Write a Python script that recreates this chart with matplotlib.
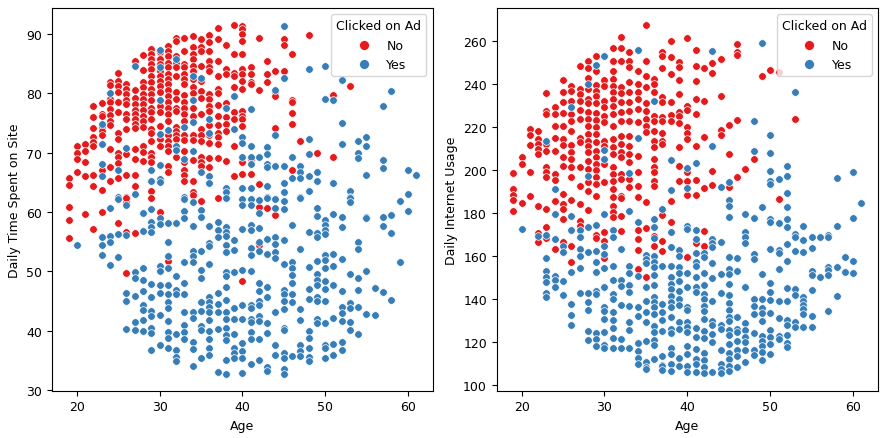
from matplotlib import pyplot as plt

plt.rcParams['font.size'] = 9

# Values: (age, [values at that age])
SITE_NO = [
    (19, [65.7, 64.5, 60.85, 58.65, 55.6]),
    (20, [71.2, 70.0, 69.0, 66.7]),
    (21, [71.5, 70.2, 68.4, 66.0, 59.7]),
    (22, [77.8, 76.0, 74.2, 72.7, 71.8, 71.2, 66.2, 64.3, 57.1]),
    (23, [78.3, 76.6, 76.1, 74.3, 73.7, 73.0, 67.1, 63.75, 60.06]),
    (24, [82, 81.4, 79, 78.5, 77.4, 76.4, 75.3, 74.7, 70.6, 67.6, 65.3]),
    (25, [83.5, 82.1, 81.3, 80.3, 78.6, 76.8, 73.4, 72.3, 70, 69.3, 68.2, 65.7, 58.2]),
    (26, [81.6, 80.7, 79.9, 78.8, 78.2, 76.5, 75.7, 74, 69.8, 66.3, 62.5, 56.6, 61.7, 62.4, 49.7]),
    (27, [85.5, 80.6, 79.3, 78.2, 77.2, 76.5, 75.7, 74.8, 74.1, 70.6, 68.9, 66.3, 64.3, 56.4]),
    (28, [86.5, 84, 81.9, 81, 79.9, 79.1, 78.2, 77.2, 76.2, 75.4, 74.3, 71.2, 70.1, 68.6]),
    (29, [87.5, 86.6, 85.8, 85, 84.1, 83, 81.9, 80.7, 79.9, 78.8, 77.6, 76.8, 75.7, 74, 73.4, 72, 70, 69.2, 68.4, 63.6, 62.4]),
    (30, [86.9, 85.8, 85, 83.8, 83, 82.1, 81.3, 80.2, 77.9, 76.8, 74.5, 72.3, 71.2, 60]),
    (31, [88, 87.2, 86.3, 85.2, 84.4, 83.3, 82.4, 81.6, 80.6, 79.6, 78.5, 77.5, 76.5, 75.4, 72.9, 72, 71.2, 70.3, 67.8, 66.7, 51.7]),
    (32, [89.4, 88.8, 86.3, 85.2, 84.4, 83, 80.2, 79.1, 77.5, 77, 74.3, 73.7, 72.9, 72.3, 69.2]),
    (33, [89.3, 87.2, 85, 84.4, 83.3, 82.4, 81.6, 79.7, 78.5, 77.6, 76.5, 75.4, 72.9, 72.1, 70.2, 68.4, 67, 66.3, 65.3]),
    (34, [89.7, 87.9, 86.6, 85.8, 84.7, 83.8, 82.4, 81, 80, 77.5, 76.2, 72.9, 72.1, 68.8, 65.3, 63.3, 62.9]),
    (35, [89.2, 87.8, 87.2, 84.7, 82.1, 80.4, 79.3, 76.5, 74, 72.9, 71.9, 69.2, 68.5, 67.7, 61.9]),
    (36, [89.9, 88.6, 87.2, 85.4, 84.4, 83.8, 79.9, 79.1, 77.9, 77.1, 74.7, 72.9, 71.6, 69.1, 67.5]),
    (37, [91, 89.2, 85.4, 83, 80.7, 80, 78, 76.2, 74.7, 73.4, 72.6, 71.5, 69.1, 62.3]),
    (38, [88.2, 84.1, 83.3, 78.4, 76, 74.8, 73.6, 68.6]),
    (39, [91.5, 86.7, 83.5, 83, 81, 76.8, 75.7, 71.1, 66]),
    (40, [91.4, 90.8, 90, 88.9, 86.6, 84.1, 83.2, 82.1, 80.7, 77.1, 76.2, 75.7, 74.5, 68.4, 66.4, 48.3]),
    (41, [84.4, 83.3, 82, 81.6, 68.9, 66.4]),
    (42, [89.3, 80.6, 64.7, 60.8, 54.4]),
    (43, [85.5, 83.3, 81.9, 60.7]),
    (44, [83.8, 80.2, 79.6, 74.1, 59.5]),
    (45, [89.2, 88.1, 83.8]),
    (46, [86.6, 78.8, 78.5, 76.7, 74.8, 67]),
    (47, [72]),
    (48, [89.8]),
    (49, [69.9]),
    (51, [79.8, 69.2]),
    (53, [81.3]),
]

SITE_YES = [
    (20, [54.4]),
    (23, [74.8, 71.5, 68.1, 66.1, 55.7, 54.5, 52.8]),
    (24, [80, 60.6, 56, 54.9, 51]),
    (25, [67, 62.5, 62.2, 56.2, 52.4]),
    (26, [70.8, 61.2, 56.1, 46.3, 45, 40.3]),
    (27, [84.6, 63.1, 49.8, 48.8, 45.9, 41.5, 40.1]),
    (28, [59.8, 56.8, 50.6, 48.6, 46.6, 44.3, 43.5, 41.8, 40]),
    (29, [67, 65.3, 60.5, 58.3, 57.5, 56.7, 47.8, 45.6, 43.3, 42.4, 40.4, 39.5, 36.7]),
    (30, [87.4, 84.4, 78.9, 73.1, 68, 65.5, 65, 59, 57.9, 50.8, 50, 47.7, 46.3, 42.6, 37.6]),
    (31, [73.8, 58.1, 55, 52.6, 50.6, 47.6, 46.2, 44.8, 43.8, 41.6, 39.7, 38.8, 37.1]),
    (32, [85.8, 71.2, 70.5, 58.1, 49.2, 46.9, 46.2, 39.4, 36.7, 35.5, 34.8]),
    (33, [74.4, 68.9, 62.6, 62.2, 60.1, 59, 51.6, 48.1, 46.2, 43.1, 41, 39.7, 38.6]),
    (34, [83, 78.8, 75.2, 70.3, 61.7, 57.7, 53.4, 52.6, 51.5, 43.1, 42.1, 38.1, 36.8, 34.1]),
    (35, [82.6, 66.8, 60.3, 59.2, 53.4, 50.2, 48.9, 44.8, 43.3, 40.8, 40.1, 35.3]),
    (36, [75.7, 73.4, 66, 64.9, 57.7, 54.7, 54.2, 51.3, 45.7, 44.8, 44, 43.2, 41.8, 40, 38.6, 37, 35.8]),
    (37, [58.3, 57, 55.7, 46.3, 44.4, 43.1, 40.3, 33]),
    (38, [77.6, 64.1, 63.3, 62.4, 57.5, 56.6, 56, 54.4, 53.2, 49.9, 49.2, 47.3, 45.1, 43.2, 42, 40.5, 39.3, 38.4, 35, 32.7]),
    (39, [79.6, 74, 55.3, 53.6, 49.9, 43.8, 42, 39.4, 37.1, 36.2, 35.3]),
    (40, [72.6, 71.7, 69.3, 64.1, 62.2, 61.1, 57.1, 50.2, 44.3, 42, 37.9, 36.5, 35.3, 32.9]),
    (41, [77.4, 71.2, 69.2, 68.1, 64.1, 62.2, 61.1, 57.8, 57, 54, 52.8, 50, 44.3, 43.8, 42, 41.4, 39.8, 38.6, 34.4]),
    (42, [69.3, 62, 59.8, 57.3, 55, 53.4, 48, 46.7, 44.9, 44.3, 42.5, 41.6, 38.6, 35]),
    (43, [70.9, 69.8, 68.1, 67.5, 64.3, 62.6, 62.4, 55.4, 52.9, 47.3, 45.7, 41.2, 39.5, 33.8, 33.2]),
    (44, [80.6, 73, 67.7, 62.1, 60.7, 55.7, 54.6, 53.2, 52.2, 43.1, 37.6, 35.9]),
    (45, [91.4, 82.6, 67.7, 64.8, 63.3, 61.9, 60.5, 55.2, 51.3, 46.9, 46.1, 44.9, 43.6, 40.5, 40.1, 36.2, 35.3, 33.5, 32.7]),
    (46, [69.2, 65.7, 57.8, 51.6, 50.5, 49.4, 48.1, 46.2, 44.8, 35.7]),
    (47, [67.7, 66.7, 65.8, 62.6, 62.3, 53.8, 43.6, 41.8, 37.6, 36.5, 35.7]),
    (48, [84.1, 72.3, 69.8, 66.1, 63.6, 56.7, 50.7, 47, 45.3, 39.9, 38.7, 37, 35.6, 34.9]),
    (49, [66.7, 65.3, 60.7, 59.4, 56.4, 55.7, 51.7, 49.5, 48.5, 47.7, 45.6, 44.9, 42, 41.2]),
    (50, [84.6, 79.1, 58.7, 57.8, 57, 56.2, 52.8, 51.9, 50.6, 48.4, 47, 45, 41.3, 37.6, 37, 35.3]),
    (51, [78.9, 64.8, 59.7, 52.9, 50.9, 47.6, 42.1, 37.7, 35.9]),
    (52, [82.2, 75, 71.5, 59.1, 57.4, 52, 46.6, 43.9, 42.9, 41.6, 38, 36.7]),
    (53, [63.5, 62.6, 62.3, 61.6, 49.5, 44.6, 43.8, 41.5, 40.1]),
    (54, [72, 70, 69.1, 55, 53.7, 48.9, 46.9, 44, 39.4]),
    (55, [72.7, 71.2, 66.3, 59.2, 58.9, 50.1, 42.8]),
    (56, [47.1, 42.6]),
    (57, [77.9, 68.7, 67.4, 59.1, 57.7, 46.5]),
    (58, [80.4, 59.5, 56.5, 45.2]),
    (59, [61.9, 51.5]),
    (60, [67, 63.1, 60.2]),
    (61, [66.3]),
]

USAGE_NO = [
    (19, [198.4, 191.1, 188.4, 186, 181]),
    (20, [206, 202.7, 184.5]),
    (21, [219, 216.3, 211.7, 198.8, 187.7]),
    (22, [217.9, 214.3, 212, 209.7, 207.6, 183.2, 170.5, 166.3]),
    (23, [235.5, 227.2, 225.9, 212, 208.9, 201.2, 198.8, 196.8, 181.8, 173.6, 168.4]),
    (24, [229.4, 225.9, 220.5, 214.8, 208.9, 198.1, 195.4, 185.7, 163.2]),
    (25, [241.7, 236.4, 231.4, 226.2, 220.5, 214.3, 211.5, 206, 201.9, 188.8, 184.1, 181.8, 177, 166.3]),
    (26, [239.1, 236.5, 232.1, 225.9, 222.8, 218.2, 211.7, 208.1, 205, 201.2, 196.5, 186, 164.8, 157.2]),
    (27, [248.4, 237.6, 235.2, 231.8, 227.8, 223.6, 215, 212.8, 201.2, 192.6, 184.1, 176.1, 174.1]),
    (28, [250.4, 247.3, 242.7, 237.6, 232.9, 230.9, 226.7, 223.6, 220.5, 216.6, 213.5, 211.2, 208.1, 203.9, 200.4, 194.2, 190.3, 181.4]),
    (29, [253, 246.1, 239.6, 236.8, 234.4, 231, 226.2, 223.3, 220, 216.6, 212.8, 208.9, 205.8, 202.7, 199.9, 196.5, 193.4, 188, 169.9, 168.2]),
    (30, [241.7, 239.1, 232.1, 229, 225.2, 222.1, 213.5, 211.2, 202.7, 194.2, 171, 167.1, 158.9]),
    (31, [256.4, 250.7, 246.1, 242.2, 239.1, 236, 232.9, 229.8, 225.9, 220.5, 214.3, 210.8, 207.3, 201.2, 198.1, 195, 191.1, 187.3, 183.4, 180.3, 178]),
    (32, [261.9, 256.6, 250.4, 238.6, 235.5, 231.4, 226.7, 222.8, 215.9, 212, 208.1, 205.8, 198.1, 195.7, 188, 187, 178.4, 171.5]),
    (33, [254.6, 250.7, 247.6, 240.6, 236, 231.4, 227.5, 222.8, 215.9, 211.2, 207.3, 203.5, 195.7, 191.9]),
    (34, [246.1, 239.9, 236, 232.9, 228.3, 222.1, 206.5, 198.8, 192.6, 187.6, 172.1, 167.9, 162.8, 153.9]),
    (35, [267.3, 250.4, 243.8, 238.6, 230.9, 227.5, 223.6, 220.5, 217.4, 184.9, 172.8, 150.1]),
    (36, [242.2, 239.9, 236, 225.2, 222.8, 218.2, 213.2, 210.5, 205, 201.2, 198.8, 194.9, 192.6, 169.4, 164.8]),
    (37, [254.6, 253, 247.3, 234, 231.4, 224.4, 222.5, 216.9, 213.5, 212, 179.2, 166.8, 162.2]),
    (38, [260, 252.3, 244.6, 231.7, 225.6, 222.5, 185.7, 175.6]),
    (39, [249.9, 247.9, 241.7, 235.2, 226.7, 225.2, 221.6, 210.4, 201.6, 194.6]),
    (40, [261.3, 229.8, 227.8, 219.7, 216.9, 214.3, 198.8, 194.6, 188.4, 159.4]),
    (41, [255.8, 248.4, 241.1, 232.9, 225.9, 211.1, 195.4, 188.2, 166]),
    (42, [247.3, 231.8, 215.4, 191.4, 171.8, 164.8]),
    (43, [249.6, 244.8, 199.3, 193]),
    (44, [251.5, 234.4, 218.5, 216.3]),
    (45, [221, 207.3, 191.9]),
    (46, [258.5, 254.9, 253.5, 223.1, 196.8]),
    (47, [200.4]),
    (48, [205]),
    (49, [243.8]),
    (50, [246.5]),
    (51, [245.3, 186.5]),
    (53, [223.6]),
]

USAGE_YES = [
    (20, [172.5]),
    (22, [169.4]),
    (23, [213.2, 169.9, 159, 152.9, 150.1, 147.8, 142.6, 141]),
    (24, [191.1, 179.5, 167.9, 150.8, 148.8, 145.7]),
    (25, [164.8, 161.7, 148.2, 141.9]),
    (26, [229, 178.7, 172.1, 152.4, 137.7, 132.7, 128.1]),
    (27, [172.1, 169, 163.2, 159.8, 154.4, 142.8]),
    (28, [239.9, 197.3, 173.6, 161.7, 142.8, 138.5, 134.9, 125.1, 121.1]),
    (29, [248.9, 174.4, 162.5, 157.2, 152.7, 143.9, 142.3, 124, 121.4, 118.3]),
    (30, [253, 209.2, 204.9, 179.5, 164.8, 160.9, 154.4, 145.4, 136.1, 134.6, 130.7, 124.8, 118.8, 117.1]),
    (31, [172.2, 168.7, 155.5, 148.8, 142.3, 140, 134.1, 130.2, 126.4, 121.9, 117.4]),
    (32, [163.2, 148.8, 146.2, 137.2, 121.4, 117.2]),
    (33, [198.4, 181, 155.5, 151.9, 146.7, 143.1, 136.9, 129.2, 125.6, 117.1]),
    (34, [255.8, 214.8, 175.6, 150.8, 136.1, 132.3, 119.6, 115.7, 112.4, 109.8]),
    (35, [160.6, 158.6, 156.7, 145.4, 139.2, 134.1, 129.2, 120.6, 110.6, 108.6, 107.5]),
    (36, [232.1, 177.3, 173.3, 168.4, 159.8, 157.4, 154.7, 151.3, 146.7, 140.8, 138.5, 136.1, 133, 127.6, 124.5, 121.1, 118.8, 112]),
    (37, [181.7, 155.5, 137.7, 133.8, 130.4, 125.3, 113.4, 109.5, 108.9, 107]),
    (38, [204.5, 190.6, 171.3, 164, 155.5, 150.4, 147, 144.7, 141.6, 138.5, 136.1, 131.8, 126, 124, 117.1, 114.5, 109.8, 106.7]),
    (39, [162.8, 160.1, 154.7, 152.1, 148.5, 143.6, 140, 137.4, 129.5, 126.1, 112.4, 109]),
    (40, [200.8, 191.5, 173.8, 172.5, 152.1, 145.4, 136.1, 134.9, 129.5, 127.2, 124.5, 118.3, 114.5, 109, 106.2]),
    (41, [203.2, 172.2, 167.9, 161.4, 157, 155.5, 150.1, 145.4, 143.4, 126.4, 122.2, 116.8, 112.1, 109.8, 106.2]),
    (42, [161.4, 159.4, 152, 146.7, 142.3, 140, 136.9, 134.3, 130.7, 125, 121.9, 114.8, 111.8, 108.3, 105.6]),
    (43, [255.4, 211.2, 167.9, 165.9, 164.3, 156.6, 149.8, 139.2, 129.6, 128.1, 123.7, 119.9, 106]),
    (44, [191.9, 166.3, 151.6, 142.8, 128.1, 126.1, 116.3, 109.8, 107.5, 105.6]),
    (45, [194.2, 186.2, 183.2, 178.1, 159.7, 154, 151.6, 147, 142, 138.1, 135, 131.8, 129.9, 125.6, 123.4, 119.1, 114.8, 112.1, 108.9, 106.4]),
    (46, [158.9, 152.9, 131.8, 126.1, 124.5, 120.6, 116.5, 113.7, 108.6]),
    (47, [179.5, 171, 168.7, 166, 145.4, 128.7, 125.6, 122.5, 119.9, 116.3, 110.9]),
    (48, [222.5, 208.9, 177.5, 160.9, 158.6, 140, 136.9, 133, 124, 116.3, 114]),
    (49, [258.8, 182.6, 151.6, 140, 135.8, 133.3, 129.9, 123, 120.6, 118.3, 115.2, 111.8]),
    (50, [216.3, 207.7, 199.6, 194.9, 193.4, 177.2, 175.6, 163.2, 147.3, 143.1, 139.5, 133.5, 125.6, 122.5, 119.1, 114.5]),
    (51, [195.7, 175.2, 162.8, 161.2, 154, 139.2, 131.2, 123, 121.4]),
    (52, [201.6, 197.1, 189.1, 182.9, 177.3, 173.6, 165.6, 157.8, 145, 139.2, 130.2, 128, 123.4, 119.4, 117.9]),
    (53, [236.3, 170.2, 168.7, 162.5, 144.7, 141.9, 129.2, 126.8]),
    (54, [173.8, 167.4, 161.8, 141.1, 139.2, 137.4, 135.4, 133, 127.2]),
    (55, [169, 163.7, 152.9, 151.3, 144.2, 132.1, 127.2]),
    (56, [169, 150.4]),
    (57, [169.9, 169, 155, 153.5, 151.2, 134.6]),
    (58, [196.2, 174.1, 155, 141.6]),
    (59, [159.4, 152.7]),
    (60, [198.8, 177.6, 157.8, 152.2]),
    (61, [184.8]),
]

RED = '#e41a1c'
BLUE = '#377eb8'

# Flatten (age, values) rows into x and y lists
def flatten(rows):
    ages, values = [], []
    for age, vals in rows:
        ages += [age] * len(vals)
        values += vals
    return ages, values

# Draw one panel
def panel(ax, rowsNo, rowsYes, ylabel, ylim):
    xNo, yNo = flatten(rowsNo)
    xYes, yYes = flatten(rowsYes)

    no = ax.scatter(xNo, yNo, s = 30, c = RED, edgecolors = 'w', linewidths = 0.5, label = 'No', zorder = 2)
    yes = ax.scatter(xYes, yYes, s = 30, c = BLUE, edgecolors = 'w', linewidths = 0.5, label = 'Yes', zorder = 3)

    ax.set_xlim(17, 63)
    ax.set_ylim(*ylim)
    ax.set_xticks([20, 30, 40, 50, 60])
    ax.set_xlabel('Age')
    ax.set_ylabel(ylabel)

    ax.legend([no, yes], ['No', 'Yes'], title = 'Clicked on Ad', loc = 'upper right', markerscale = 1.3)

fig = plt.figure(figsize = (8.87, 4.39), dpi = 100)
W, H = 887, 439

axLeft = fig.add_axes([52 / W, 1 - 391.7 / H, 380.7 / W, 382.7 / H])
axRight = fig.add_axes([496.7 / W, 1 - 391.7 / H, 381.3 / W, 382.7 / H])

panel(axLeft, SITE_NO, SITE_YES, 'Daily Time Spent on Site', (29.85, 94.4))
panel(axRight, USAGE_NO, USAGE_YES, 'Daily Internet Usage', (97.4, 275.2))

fig.savefig('out.png', dpi = 100)
